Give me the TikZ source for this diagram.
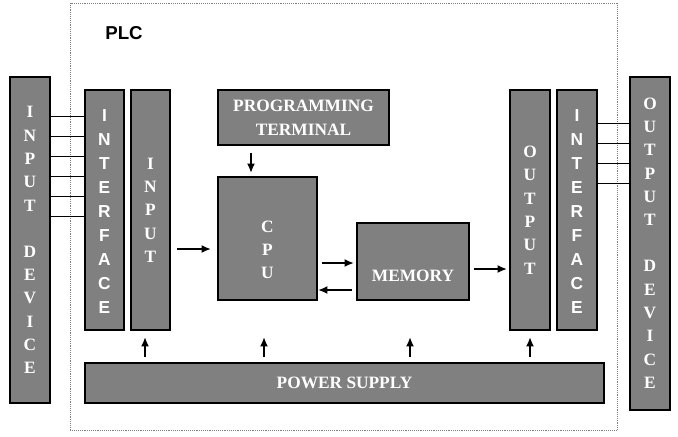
\documentclass[tikz,border=0pt]{standalone}
\usepackage{fontspec}
\setmainfont{Liberation Serif}
\newfontfamily\arialf{Liberation Sans}
\usetikzlibrary{arrows.meta}
\begin{document}
\begin{tikzpicture}[x=0.75pt,y=-0.75pt,
 blk/.style={draw=black,fill=gray,line width=0.8pt},
 lbl/.style={text=white,font=\bfseries\fontsize{13}{17.5}\selectfont,align=center},
 sl/.style={text=white,font=\arialf\bfseries\fontsize{13}{18}\selectfont,align=center},
 arr/.style={-{Latex[length=7pt,width=6pt]},line width=1.6pt},
 ln/.style={line width=0.6pt}]
\useasboundingbox (0,0) rectangle (678,436);
\draw[gray,densely dotted,line width=0.4pt] (70,3) rectangle (617,430);
\node[font=\arialf\bfseries\fontsize{14}{16}\selectfont] (plc) at (124,33) {PLC};
\path[blk] (10,77) rectangle (50,403); \node[lbl] (ind) at (30,240) {I\\N\\P\\U\\T\\[17pt]D\\E\\V\\I\\C\\E};
\path[blk] (85,90) rectangle (124,330); \node[sl] (ifl) at (104.5,212) {I\\N\\T\\E\\R\\F\\A\\C\\E};
\path[blk] (131,90) rectangle (170,330); \node[lbl] (inp) at (150.5,210) {I\\N\\P\\U\\T};
\path[blk] (218,90) rectangle (389,145); \node[lbl,font=\bfseries\fontsize{13}{18}\selectfont] (pt) at (303.5,117.5) {PROGRAMMING\\TERMINAL};
\path[blk] (218,177) rectangle (317,300); \node[lbl] (cpu) at (267.5,250) {C\\P\\U};
\path[blk] (357,223) rectangle (469,300); \node[lbl] (mem) at (413,276) {MEMORY};
\path[blk] (510,90) rectangle (550,330); \node[lbl] (outp) at (530,210) {O\\U\\T\\P\\U\\T};
\path[blk] (557,90) rectangle (597,330); \node[sl] (ifr) at (577,212) {I\\N\\T\\E\\R\\F\\A\\C\\E};
\path[blk] (630,77) rectangle (670,410); \node[lbl] (outd) at (650,243) {O\\U\\T\\P\\U\\T\\[17pt]D\\E\\V\\I\\C\\E};
\path[blk] (85,363) rectangle (604,403); \node[lbl] (ps) at (344.5,383) {POWER SUPPLY};
\foreach \y in {116,136,156,176,196,216} \draw[ln] (50,\y) -- (85,\y);
\foreach \y in {123,143,163,183} \draw[ln] (597,\y) -- (630,\y);
\draw[arr] (177,249) -- (211,249);
\draw[arr] (251,153) -- (251,173);
\draw[arr] (322,263) -- (354,263);
\draw[arr] (352,290) -- (318,290);
\draw[arr] (474,269) -- (507,269);
\foreach \x in {145,264,410,530} \draw[arr] (\x,357) -- (\x,337);
\end{tikzpicture}
\end{document}
